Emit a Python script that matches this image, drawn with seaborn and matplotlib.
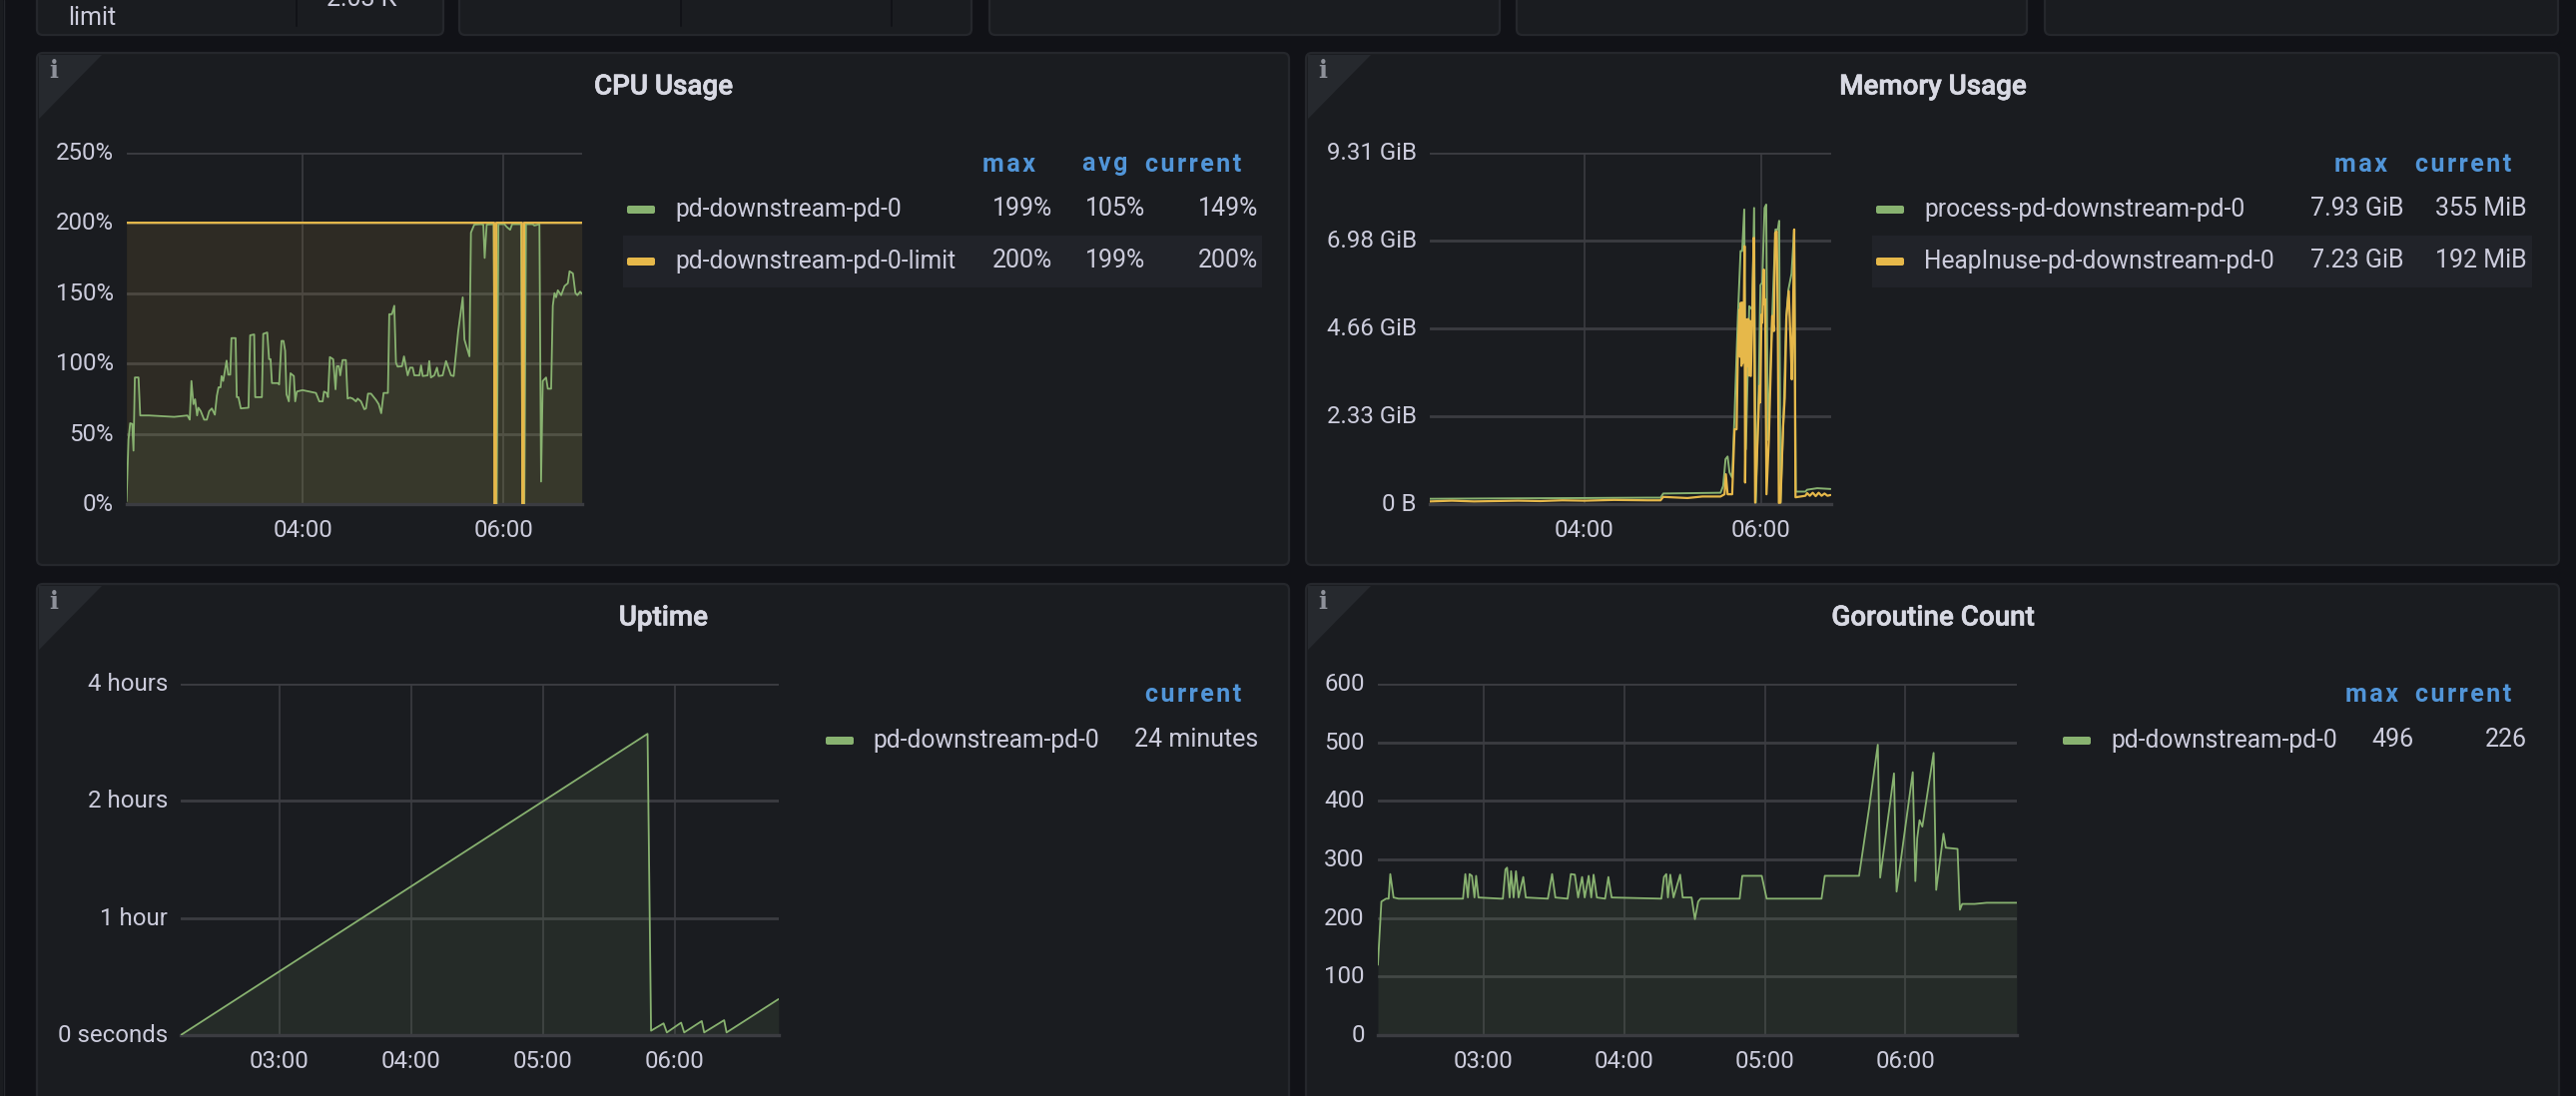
import pandas as pd
import seaborn as sns
import matplotlib.pyplot as plt
import matplotlib.patheffects as pe
from matplotlib.patches import FancyBboxPatch, Polygon, Rectangle
from matplotlib.transforms import ScaledTranslation

# all times are minutes after 02:00
cpu_t = [14.8, 16, 17, 18.2, 19, 19.8, 22, 23, 28.3, 43.3, 51.2, 52.6, 53.6, 54.8, 55.8, 57, 57.8, 59.2, 61.2, 62.8,
         64.2, 65.8, 67.6, 68.8, 69.8, 71, 71.6, 72.6, 74.6, 75.6, 76.8, 77.5, 80, 80.7, 81.7, 83.1, 87.7, 88.7, 91.1, 91.7,
         95.7, 96.5, 98.9, 100, 100.9, 101.7, 105.3, 106, 107.4, 108.6, 109.6, 110.4, 111.8, 112.8, 114.8, 115.6, 116.6, 120, 128, 130,
         132, 132.8, 134.4, 135.2, 136.3, 138.3, 139.7, 140.5, 141.7, 142.5, 143.9, 145.9, 146.9, 148.3, 149.9, 151.9, 152.9, 154.9, 156.9, 157.9,
         159.1, 160.9, 163.9, 165.5, 167, 168.4, 171, 171.8, 173.4, 174.8, 175.8, 176.8, 179.4, 180.6, 182.8, 184.2, 185.8, 186.8, 189.8, 190.8,
         191.8, 194.7, 195.7, 196.7, 198.7, 200.3, 201.3, 203.7, 205.7, 208.7, 210.3, 213, 215.7, 216.7, 219.7, 220.6, 222.6, 226.6, 228, 228.8,
         230, 234.2, 235.2, 236, 237, 240.6, 242, 244, 245.2, 250.5, 251.5, 252.5, 253.5, 257.5, 258.5, 261.5, 262.5, 263.5, 265.5, 266.5,
         268.5, 269.5, 270.5, 271.5, 272.5, 274.5, 276.5, 278.5, 279.5, 281.5, 283, 284.2, 285.8, 286.8]
cpu_used = [2, 46, 57.5, 57, 38, 90, 90, 63, 63, 62, 63, 60, 87.5, 71, 74.5, 63, 68.5, 66, 60, 60,
            66, 68, 63.5, 77, 83, 83, 91, 87.5, 102, 92, 92, 118, 118, 76, 76, 68, 68.5, 120, 120.6, 76,
            76, 121, 122, 103, 103, 86, 86, 85, 116, 116, 109, 78, 73, 93, 91, 73, 80, 81, 79, 73,
            73, 80, 79, 76, 104.5, 103, 81.6, 98, 98, 91.5, 102.4, 102.4, 75, 75.7, 75, 73, 75, 73, 67.4, 68,
            78.5, 78.5, 74, 71, 64.6, 79, 79, 135, 135, 141, 100.5, 97.7, 98, 105, 91.5, 97, 97, 91.5, 91.5, 98.6,
            91, 91.5, 101.7, 90, 91.5, 97, 91, 91.5, 101.7, 91.5, 91, 123, 147, 117, 105, 193, 198.7, 199, 198.7, 175,
            198.7, 199, 0, 0, 199, 199, 197, 195, 199, 199, 0, 0, 199, 199, 198, 199, 16, 87.5, 90, 82,
            82, 141, 150, 147, 152, 148.5, 155, 157, 165.5, 164, 150, 148.5, 151, 149.7]
limit_t = [14.8, 234.4, 234.7, 235.5, 235.8, 251, 251.3, 252.1, 252.4, 286.8]
limit_v = [200, 200, 0, 0, 200, 200, 0, 0, 200, 200]

mem_proc_t = [15, 60, 120, 162.7, 171.7, 173.5, 212.4, 214.2, 215.8, 217.2, 218.5, 220.3, 221.9, 224.2, 226, 227.1, 228.5, 229.6, 231.9, 233.9,
              235.2, 236.4, 238.4, 239.5, 240.7, 242.3, 243.4, 244.5, 247.5, 249.7, 251.3, 252.2, 253.1, 255.4, 256.9, 258.5, 260.6, 262.4, 263.5, 270,
              271.2, 278, 287]
mem_proc_v = [0.14, 0.15, 0.16, 0.17, 0.17, 0.28, 0.3, 0.48, 1.19, 1.26, 0.84, 0.7, 2.33, 4.98, 6.7, 6.7, 7.8, 1.45, 5.24, 5.15,
              7.84, 0.04, 3.2, 5.8, 5.86, 7.84, 7.93, 1.7, 4.98, 7.27, 7.27, 7.5, 0.04, 2.6, 4.89, 5.68, 6.1, 7.27, 0.33, 0.33,
              0.38, 0.42, 0.4]
mem_heap_t = [15, 30, 45, 60, 75, 90, 105, 120, 140, 162.7, 171.7, 173.5, 190, 200, 212.4, 215.1, 216, 217.2, 220.3, 221.9,
              223.3, 224.2, 225.3, 225.7, 226.2, 226.6, 227.1, 227.6, 228.2, 228.7, 229.1, 229.5, 230, 230.6, 231.2, 231.8, 232.3, 233, 234.1, 235,
              235.9, 237.3, 238.9, 239.3, 240.2, 240.7, 241.3, 241.8, 242.2, 242.7, 243.6, 245.2, 247.5, 248.6, 249.5, 250.6, 251.3, 252, 253.1, 254.9,
              256, 257.2, 258.7, 259.9, 260.8, 261.5, 262.4, 263.3, 270, 271.2, 273, 275, 277, 279, 281, 283, 285, 287]
mem_heap_v = [0.07, 0.09, 0.07, 0.08, 0.09, 0.08, 0.1, 0.09, 0.11, 0.1, 0.1, 0.19, 0.16, 0.2, 0.2, 0.26, 0.79, 0.26, 0.26, 1.98,
              1.98, 4.1, 5.15, 3.9, 5.33, 3.66, 5.33, 3.74, 5, 6.83, 0.57, 2, 4.89, 3.66, 4.9, 3.4, 4.85, 3.39, 5.24, 7.05,
              0.04, 1.45, 3.13, 2.69, 5.02, 4.8, 5.6, 6.21, 5.3, 5.42, 0.26, 1.72, 4.98, 4.58, 7.18, 7.22, 4.63, 0.03, 0.04, 2.07,
              2.82, 4.98, 5.64, 4.36, 3.3, 4.71, 7.27, 0.18, 0.22, 0.29, 0.22, 0.3, 0.21, 0.3, 0.22, 0.28, 0.22, 0.24]

uptime_t = [15, 227.7, 229.3, 235, 236.5, 243, 244.4, 252.4, 253.5, 262.6, 263.7, 287.4]
uptime_v = [0, 3.43, 0.05, 0.134, 0.03, 0.142, 0.03, 0.16, 0.03, 0.17, 0.03, 0.41]

gor_t = [15, 16.5, 18.5, 19.6, 20.3, 21.7, 23.8, 51.3, 52.3, 53.4, 54.1, 55.1, 56.2, 56.9, 57.9, 67.3, 68.3, 69.4, 70.1, 71.2,
         71.8, 72.9, 73.9, 75, 77, 78.1, 87.5, 89.3, 90.7, 95.9, 97.3, 99, 100.4, 102.1, 103.2, 104.9, 106, 107, 108.4, 111.9,
         113.3, 114.7, 135.9, 137, 138, 138.7, 139.7, 141.1, 143.9, 145, 148.8, 150.2, 151.6, 152.6, 169.3, 170.4, 178.7, 180.8, 204.2, 205.6,
         206.9, 220.2, 224.5, 228.2, 229.2, 235.1, 236.2, 243.1, 244.2, 245, 246, 247.2, 252, 253.1, 256.2, 257.2, 262.2, 263.2, 264.2, 269.5,
         274.6, 287.4]
gor_v = [120, 228, 233, 233, 275, 235, 233, 233, 275, 235, 275, 272, 235, 272, 235, 233, 233, 283, 286, 235,
         280, 235, 280, 235, 270, 235, 233, 275, 235, 233, 275, 274, 235, 270, 235, 272, 235, 274, 235, 233,
         270, 235, 233, 270, 275, 235, 274, 235, 274, 235, 235, 198, 228, 233, 233, 272, 272, 233, 233, 272,
         272, 272, 388, 496, 269, 447, 245, 449, 263, 336, 367, 356, 482, 248, 344, 320, 318, 214, 224, 224,
         226, 226]

cpu_yticks = [0, 50, 100, 150, 200, 250]
cpu_ylabels = ["0%", "50%", "100%", "150%", "200%", "250%"]
mem_yticks = [0, 2.3275, 4.655, 6.9825, 9.31]
mem_ylabels = ["0 B", "2.33 GiB", "4.66 GiB", "6.98 GiB", "9.31 GiB"]
up_yticks = [0, 4 / 3, 8 / 3, 4]
up_ylabels = ["0 seconds", "1 hour", "2 hours", "4 hours"]
gor_yticks = [0, 100, 200, 300, 400, 500, 600]
gor_ylabels = ["0", "100", "200", "300", "400", "500", "600"]

PAGE = "#111217"
PANEL = "#1a1c20"
EDGE = "#25272c"
GRID = "#3b3c41"
TEXT = "#ccccdc"
GREEN = "#88b270"
YELLOW = "#e6b84a"
BLUE = "#5195d8"

sns.set_theme(style="dark", rc={"figure.facecolor": PAGE, "axes.facecolor": "none", "text.color": TEXT,
                                "xtick.color": TEXT, "ytick.color": TEXT, "axes.edgecolor": GRID})
plt.rcParams["font.family"] = ["Roboto", "DejaVu Sans"]

W, H = 2580, 1098
fig = plt.figure(figsize=(W / 100, H / 100), dpi=100, facecolor=PAGE)
bg = fig.add_axes([0, 0, 1, 1], zorder=0)
bg.set_xlim(0, W)
bg.set_ylim(H, 0)
bg.axis("off")


def panel(x0, y0, x1, y1):
    bg.add_patch(FancyBboxPatch((x0 + 4, y0 + 4), x1 - x0 - 8, y1 - y0 - 8, boxstyle="round,pad=4,rounding_size=6",
                                fc=PANEL, ec=EDGE, lw=1.6))


def info_panel(x0, y0, x1, y1, title):
    panel(x0, y0, x1, y1)
    bg.add_patch(Polygon([(x0 + 2, y0 + 2), (x0 + 65, y0 + 2), (x0 + 2, y0 + 66)], fc="#26292e", ec="none"))
    bg.text(x0 + 17, y0 + 18.5, "i", fontsize=17, fontweight="bold", family="DejaVu Serif", color="#8e919a",
            ha="center", va="center")
    bg.text((x0 + x1) / 2 + 0.5, y0 + 34, title, fontsize=20, fontweight="medium", color="#d8d9e3", ha="center", va="center",
            path_effects=[pe.withStroke(linewidth=0.5, foreground="#d8d9e3")])


def chart(x0, y0, x1, y1, xlim, ylim, xticks, xlabels, yticks, ylabels):
    ax = fig.add_axes([x0 / W, 1 - y1 / H, (x1 - x0) / W, (y1 - y0) / H], zorder=2)
    ax.set_xlim(*xlim)
    ax.set_ylim(*ylim)
    ax.set_xticks(xticks, xlabels)
    ax.set_yticks(yticks, ylabels)
    ax.tick_params(axis="x", length=0, pad=10.5, labelsize=17.3, labelcolor=TEXT)
    ax.tick_params(axis="y", length=0, pad=9.5, labelsize=17.3, labelcolor=TEXT)
    # labels sit a little above their grid lines
    up = ScaledTranslation(0, 2 / 100, fig.dpi_scale_trans)
    for lab in ax.get_yticklabels():
        lab.set_transform(lab.get_transform() + up)
    ax.grid(axis="y", color=GRID, lw=2)
    ax.grid(axis="x", color=GRID, lw=1.2)
    ax.set_axisbelow(True)
    sns.despine(ax=ax, left=True, top=True, right=True, bottom=False)
    ax.spines["bottom"].set_linewidth(2.4)
    return ax


def series(ax, t, v, color, lw=1.3, fill=None):
    df = pd.DataFrame({"t": t, "v": v})
    if fill:
        ax.fill_between(df["t"], df["v"], color=color, alpha=fill, lw=0, zorder=1)
    sns.lineplot(data=df, x="t", y="v", color=color, lw=lw, estimator=None, sort=False, errorbar=None, ax=ax, zorder=3)
    ax.set_xlabel("")
    ax.set_ylabel("")


def legend(x_swatch, x_name, rows, headers, y_head, y_first, highlight=None):
    if highlight:
        bg.add_patch(Rectangle((highlight[0], y_first + 26), highlight[1] - highlight[0], 52, fc="#212329", ec="none"))
    for name, x_r in headers:
        # the header labels are letter-spaced, hair spaces stand in for that
        bg.text(x_r, y_head, "\u200a".join(name), fontsize=18, fontweight="bold", color=BLUE, ha="right", va="center")
    for i, (name, color, vals) in enumerate(rows):
        y = y_first + i * 52
        bg.add_patch(FancyBboxPatch((x_swatch + 2, y - 2), 24, 4, boxstyle="round,pad=2,rounding_size=2", fc=color, ec="none"))
        bg.text(x_name, y - 0.5, name, fontsize=17.75, color=TEXT, ha="left", va="center")
        for val, x_r in vals:
            bg.text(x_r, y - 0.5, val, fontsize=18, color=TEXT, ha="right", va="center")


# the row of stat panels cut off at the top
for x0, x1 in [(37, 444), (460, 973), (991, 1502), (1519, 2030), (2048, 2562)]:
    panel(x0, -30, x1, 35)
for x in [297, 682, 893]:
    bg.plot([x, x], [0, 26], color="#111217", lw=1.4)
bg.text(68, 18, "limit", fontsize=18, color=TEXT, ha="left", va="center")
bg.text(327, -1, "2.03 K", fontsize=18, color=TEXT, ha="left", va="center", clip_on=True)
bg.add_patch(Rectangle((0, 0), 3, H, fc=PANEL, ec="none"))
bg.plot([3.5, 3.5], [0, H], color="#25272c", lw=1)

info_panel(37, 53, 1291, 566, "CPU Usage")
info_panel(1308, 53, 2563, 566, "Memory Usage")
info_panel(37, 585, 1291, 1130, "Uptime")
info_panel(1308, 585, 2563, 1130, "Goroutine Count")

ax = chart(127, 152.7, 583, 505, (15, 287), (0, 250), [120, 240], ["04:00", "06:00"], cpu_yticks, cpu_ylabels)
series(ax, limit_t, limit_v, YELLOW, fill=0.1)
series(ax, cpu_t, cpu_used, GREEN, fill=0.1)
series(ax, limit_t, limit_v, YELLOW, lw=1.5)
legend(628, 676, [("pd-downstream-pd-0", GREEN, [("199%", 1054), ("105%", 1147), ("149%", 1260)]),
                  ("pd-downstream-pd-0-limit", YELLOW, [("200%", 1054), ("199%", 1147), ("200%", 1260)])],
       [("max", 1037), ("avg", 1129), ("current", 1243)], 164.5, 210, highlight=(624, 1264))

ax = chart(1432, 152.7, 1834, 505, (15, 287.5), (0, 9.31), [120, 240], ["04:00", "06:00"], mem_yticks, mem_ylabels)
series(ax, mem_proc_t, mem_proc_v, GREEN, lw=1.4)
series(ax, mem_heap_t, mem_heap_v, YELLOW, lw=1.6)
legend(1879, 1927, [("process-pd-downstream-pd-0", GREEN, [("7.93 GiB", 2408), ("355 MiB", 2531)]),
                    ("HeapInuse-pd-downstream-pd-0", YELLOW, [("7.23 GiB", 2408), ("192 MiB", 2531)])],
       [("max", 2391), ("current", 2515)], 164.5, 210, highlight=(1875, 2536))

ax = chart(181, 685, 780, 1037, (15, 287.5), (0, 4), [60, 120, 180, 240], ["03:00", "04:00", "05:00", "06:00"], up_yticks, up_ylabels)
series(ax, uptime_t, uptime_v, GREEN, fill=0.1)
legend(827, 874, [("pd-downstream-pd-0", GREEN, [("24 minutes", 1260)])], [("current", 1243)], 696, 742)

ax = chart(1380, 685, 2020, 1037, (15, 287.5), (0, 600), [60, 120, 180, 240], ["03:00", "04:00", "05:00", "06:00"], gor_yticks, gor_ylabels)
series(ax, gor_t, gor_v, GREEN, fill=0.1)
legend(2066, 2114, [("pd-downstream-pd-0", GREEN, [("496", 2418), ("226", 2531)])], [("max", 2402), ("current", 2515)], 696, 742)

fig.savefig("out.png", dpi=100, facecolor=PAGE)
